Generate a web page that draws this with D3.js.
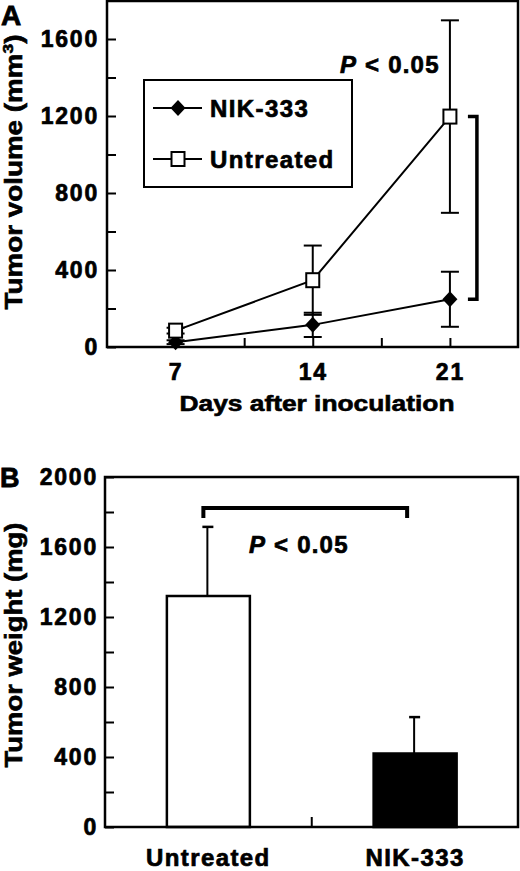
<html>
<head>
<meta charset="UTF-8">
<title>Tumor volume and weight</title>
<script src="https://cdn.jsdelivr.net/npm/d3@7"></script>
<style>
  body { margin: 0; background: #fff; }
  text { font-family: "Liberation Sans", Arial, sans-serif; font-weight: bold; fill: #000; }
</style>
</head>
<body>
<svg id="fig" width="520" height="871"></svg>
<script>
// ---- data ----
var days = [7, 14, 21];
var nikVolume = [25, 115, 248];
var nikVolumeSd = [10, 63, 143];
var untreatedVolume = [85, 347, 1197];
var untreatedVolumeSd = [15, 180, 500];

var groups = ["Untreated", "NIK-333"];
var weights = [1320, 420];
var weightSd = [395, 208];

var volTicks = d3.range(0, 1801, 200);
var dayTicks = [7, 10.5, 14, 17.5, 21];
var weightTicks = d3.range(0, 2001, 200);

var svg = d3.select("#fig");

function styleAxis(g) {
    g.select(".domain").remove();
    g.selectAll("line").attr("stroke-width", 2);
    g.selectAll("text").style("font-size", "23px").attr("letter-spacing", 1.8)
        .attr("stroke", "#000").attr("stroke-width", 0.7).attr("font-family", null);
}

// ================= panel A =================
var xA = d3.scaleLinear().domain([3.5, 24.5]).range([107, 518.5]);
var yA = d3.scaleLinear().domain([0, 1800]).range([347, 0.5]);

var gA = svg.append("g");

// y axis, ticks pointing inward
gA.append("g")
    .attr("transform", "translate(107,0)")
    .call(d3.axisLeft(yA).tickValues(volTicks).tickSize(-9).tickSizeOuter(0).tickPadding(8)
        .tickFormat(function (d) { return d % 400 === 0 ? d : ""; }))
    .call(styleAxis);

gA.append("g")
    .attr("transform", "translate(0,347)")
    .call(d3.axisBottom(xA).tickValues(dayTicks).tickSize(-9).tickSizeOuter(0).tickPadding(17)
        .tickFormat(function (d) { return Number.isInteger(d) ? d : ""; }))
    .call(styleAxis);

// frame
gA.append("rect")
    .attr("x", 107).attr("y", 1)
    .attr("width", 411).attr("height", 346)
    .attr("fill", "none").attr("stroke", "#000").attr("stroke-width", 2.5);

function drawSeries(means, sds, marker) {
    var pts = days.map(function (d, i) { return { day: d, m: means[i], sd: sds[i] }; });
    var line = d3.line().x(function (p) { return xA(p.day); }).y(function (p) { return yA(p.m); });
    gA.append("path").datum(pts).attr("d", line)
        .attr("fill", "none").attr("stroke", "#000").attr("stroke-width", 2);
    var eb = gA.append("g").attr("stroke", "#000").attr("stroke-width", 2);
    pts.forEach(function (p) {
        var cx = xA(p.day);
        var lo = yA(Math.max(0, p.m - p.sd)), hi = yA(p.m + p.sd);
        eb.append("line").attr("x1", cx).attr("x2", cx).attr("y1", lo).attr("y2", hi);
        eb.append("line").attr("x1", cx - 9).attr("x2", cx + 9).attr("y1", lo).attr("y2", lo);
        eb.append("line").attr("x1", cx - 9).attr("x2", cx + 9).attr("y1", hi).attr("y2", hi);
    });
    pts.forEach(function (p) { marker(gA, xA(p.day), yA(p.m)); });
}

function diamond(g, cx, cy) {
    g.append("path")
        .attr("d", "M" + cx + "," + (cy - 8) + "L" + (cx + 7.5) + "," + cy + "L" + cx + "," + (cy + 8) + "L" + (cx - 7.5) + "," + cy + "Z")
        .attr("fill", "#000");
}
function square(g, cx, cy) {
    g.append("rect").attr("x", cx - 6.5).attr("y", cy - 7).attr("width", 13).attr("height", 14)
        .attr("fill", "#fff").attr("stroke", "#000").attr("stroke-width", 2);
}

drawSeries(nikVolume, nikVolumeSd, diamond);
drawSeries(untreatedVolume, untreatedVolumeSd, square);

// significance bracket at day 21
var bx = xA(21) + 27;
gA.append("path")
    .attr("d", "M" + (bx - 9) + "," + yA(untreatedVolume[2]) + "H" + bx + "V" + yA(nikVolume[2]) + "H" + (bx - 9))
    .attr("fill", "none").attr("stroke", "#000").attr("stroke-width", 3.5);

var pA = gA.append("text").attr("x", 340).attr("y", 73).style("font-size", "24px")
    .attr("letter-spacing", 1.2).attr("stroke", "#000").attr("stroke-width", 0.7);
pA.append("tspan").attr("font-style", "italic").text("P");
pA.append("tspan").text(" < 0.05");

// legend
var lg = gA.append("g");
lg.append("rect").attr("x", 144).attr("y", 80).attr("width", 208).attr("height", 107)
    .attr("fill", "#fff").attr("stroke", "#000").attr("stroke-width", 2);
var legendItems = [
    { name: "NIK-333", y: 108, marker: diamond },
    { name: "Untreated", y: 159, marker: square }
];
legendItems.forEach(function (it) {
    lg.append("line").attr("x1", 153).attr("x2", 202).attr("y1", it.y).attr("y2", it.y)
        .attr("stroke", "#000").attr("stroke-width", 2);
    it.marker(lg, 178, it.y);
    lg.append("text").attr("x", 210).attr("y", it.y + 9).style("font-size", "24px")
        .attr("letter-spacing", 1.4).attr("stroke", "#000").attr("stroke-width", 0.7).text(it.name);
});

// axis titles
var tA = gA.append("text")
    .attr("transform", "translate(22,172) rotate(-90)")
    .attr("text-anchor", "middle").style("font-size", "24px")
    .attr("stroke", "#000").attr("stroke-width", 0.6)
    .attr("textLength", 275).attr("lengthAdjust", "spacingAndGlyphs");
tA.append("tspan").text("Tumor volume (mm");
tA.append("tspan").attr("dy", -9).style("font-size", "15px").text("3");
tA.append("tspan").attr("dy", 9).text(")");

gA.append("text").attr("x", 317).attr("y", 411).attr("text-anchor", "middle")
    .style("font-size", "22px").attr("stroke", "#000").attr("stroke-width", 0.6)
    .attr("textLength", 275).attr("lengthAdjust", "spacingAndGlyphs")
    .text("Days after inoculation");

gA.append("text").attr("x", 1).attr("y", 25).style("font-size", "28px")
    .attr("stroke", "#000").attr("stroke-width", 0.8).text("A");

// ================= panel B =================
var xB = d3.scaleBand().domain(groups).range([105, 518.5]).padding(0);
var yB = d3.scaleLinear().domain([0, 2000]).range([827, 477]);
var barW = 83;

var gB = svg.append("g");

gB.append("g")
    .attr("transform", "translate(105,0)")
    .call(d3.axisLeft(yB).tickValues(weightTicks).tickSize(-9).tickSizeOuter(0).tickPadding(7)
        .tickFormat(function (d) { return d % 400 === 0 ? d : ""; }))
    .call(styleAxis);

// bars
gB.selectAll("rect.bar").data(groups).enter().append("rect")
    .attr("class", "bar")
    .attr("x", function (d) { return xB(d) + xB.bandwidth() / 2 - barW / 2; })
    .attr("y", function (d, i) { return yB(weights[i]); })
    .attr("width", barW)
    .attr("height", function (d, i) { return yB(0) - yB(weights[i]); })
    .attr("fill", function (d, i) { return i === 0 ? "#fff" : "#000"; })
    .attr("stroke", "#000").attr("stroke-width", 2.5);

// one-sided error bars
groups.forEach(function (d, i) {
    var cx = xB(d) + xB.bandwidth() / 2 - 1;
    var top = yB(weights[i] + weightSd[i]);
    gB.append("line").attr("x1", cx).attr("x2", cx).attr("y1", yB(weights[i])).attr("y2", top)
        .attr("stroke", "#000").attr("stroke-width", 2);
    gB.append("line").attr("x1", cx - 5).attr("x2", cx + 6).attr("y1", top).attr("y2", top)
        .attr("stroke", "#000").attr("stroke-width", 2.5);
});

// middle tick on x axis
gB.append("line").attr("x1", xB("NIK-333")).attr("x2", xB("NIK-333"))
    .attr("y1", 827).attr("y2", 817).attr("stroke", "#000").attr("stroke-width", 2);

gB.append("rect")
    .attr("x", 105).attr("y", 477)
    .attr("width", 413).attr("height", 350)
    .attr("fill", "none").attr("stroke", "#000").attr("stroke-width", 2.5);

// category labels
gB.selectAll("text.cat").data(groups).enter().append("text")
    .attr("class", "cat")
    .attr("x", function (d) { return xB(d) + xB.bandwidth() / 2; })
    .attr("y", 866)
    .attr("text-anchor", "middle").style("font-size", "24px")
    .attr("letter-spacing", 1.4).attr("stroke", "#000").attr("stroke-width", 0.7)
    .text(function (d) { return d; });

// bracket
var c0 = xB("Untreated") + xB.bandwidth() / 2 - 5;
var c1 = xB("NIK-333") + xB.bandwidth() / 2 - 8;
gB.append("path")
    .attr("d", "M" + c0 + ",518V508H" + c1 + "V518")
    .attr("fill", "none").attr("stroke", "#000").attr("stroke-width", 4);

var pB = gB.append("text").attr("x", 249).attr("y", 553).style("font-size", "24px")
    .attr("letter-spacing", 1.2).attr("stroke", "#000").attr("stroke-width", 0.7);
pB.append("tspan").attr("font-style", "italic").text("P");
pB.append("tspan").text(" < 0.05");

gB.append("text")
    .attr("transform", "translate(22,645) rotate(-90)")
    .attr("text-anchor", "middle").style("font-size", "24px")
    .attr("stroke", "#000").attr("stroke-width", 0.6)
    .attr("textLength", 245).attr("lengthAdjust", "spacingAndGlyphs")
    .text("Tumor weight (mg)");

gB.append("text").attr("x", 0).attr("y", 487).style("font-size", "27px")
    .attr("stroke", "#000").attr("stroke-width", 0.8).text("B");
</script>
</body>
</html>
